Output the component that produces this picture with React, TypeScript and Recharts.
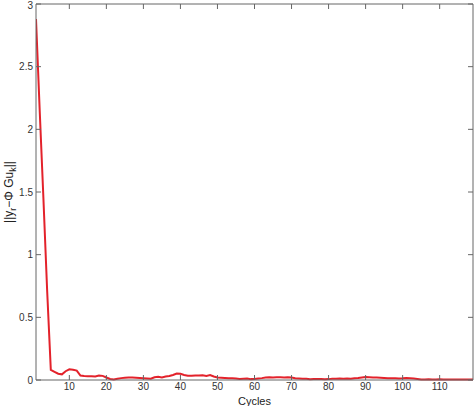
import { LineChart, Line, XAxis, YAxis } from 'recharts';

// cycle index 1..119
const cycles = Array.from({ length: 119 }, (_, i) => i + 1);

// ||y_r - Phi G u_k||, one value per cycle
const errorNorm = [
  2.88, 2.15, 1.45, 0.72, 0.08, 0.065, 0.05, 0.045, 0.07, 0.085,
  0.082, 0.075, 0.035, 0.032, 0.03, 0.03, 0.028, 0.035, 0.033, 0.02,
  0.008, 0.004, 0.01, 0.015, 0.018, 0.02, 0.019, 0.018, 0.016, 0.014,
  0.012, 0.01, 0.022, 0.025, 0.02, 0.028, 0.032, 0.04, 0.052, 0.05,
  0.04, 0.034, 0.033, 0.036, 0.035, 0.038, 0.033, 0.04, 0.028, 0.02,
  0.018, 0.016, 0.014, 0.013, 0.012, 0.008, 0.01, 0.012, 0.007, 0.008,
  0.012, 0.015, 0.02, 0.021, 0.02, 0.022, 0.021, 0.02, 0.021, 0.02,
  0.014, 0.012, 0.01, 0.009, 0.006, 0.007, 0.008, 0.007, 0.006, 0.007,
  0.009, 0.01, 0.011, 0.01, 0.012, 0.01, 0.014, 0.016, 0.02, 0.024,
  0.022, 0.02, 0.019, 0.018, 0.016, 0.014, 0.013, 0.014, 0.012, 0.013,
  0.015, 0.013, 0.011, 0.008, 0.004, 0.004, 0.005, 0.004, 0.004, 0.006,
  0.004, 0.003, 0.004, 0.003, 0.003, 0.004, 0.003, 0.003, 0.003,
];

const xTicks = [10, 20, 30, 40, 50, 60, 70, 80, 90, 100, 110];
const yTicks = [0, 0.5, 1, 1.5, 2, 2.5, 3];

const data = cycles.map((c, i) => ({ cycle: c, err: errorNorm[i] }));

const axisColor = '#666';
const font = 'Liberation Sans, Arial, sans-serif';
const tickFont = { fill: '#333', fontSize: 10, fontFamily: font };

// frame axes: tick marks only, no labels
const NoLabel = () => <g />;

// rotated y label with subscripts
const YLabel = (props: any) => {
  const { viewBox } = props;
  const cx = viewBox.x + 13;
  const cy = viewBox.y + viewBox.height / 2;
  return (
    <text
      x={cx}
      y={cy}
      transform={`rotate(-90 ${cx} ${cy})`}
      textAnchor="middle"
      fontSize={12}
      fontFamily={font}
      fill="#222"
    >
      <tspan>||y</tspan>
      <tspan fontSize={9} dy={3}>r</tspan>
      <tspan dy={-3}>−Φ Gu</tspan>
      <tspan fontSize={9} dy={3}>k</tspan>
      <tspan dy={-3}>||</tspan>
    </text>
  );
};

export default function App() {
  return (
    <div style={{ position: 'absolute', left: 0, top: 0, background: '#fff' }}>
      <LineChart width={474} height={406} data={data} margin={{ top: 2, right: 0, left: 0, bottom: 0 }}>
        <XAxis
          dataKey="cycle"
          type="number"
          domain={[1, 119]}
          ticks={xTicks}
          allowDataOverflow
          height={26}
          stroke={axisColor}
          tickSize={-5}
          tickMargin={8}
          tick={tickFont}
          label={{ value: 'Cycles', position: 'insideBottom', offset: 1, fontSize: 11, fill: '#222', fontFamily: font }}
        />
        <XAxis
          xAxisId="top"
          orientation="top"
          dataKey="cycle"
          type="number"
          domain={[1, 119]}
          ticks={xTicks}
          allowDataOverflow
          height={2}
          stroke={axisColor}
          tickSize={-5}
          tick={<NoLabel />}
        />
        <YAxis
          type="number"
          domain={[0, 3]}
          ticks={yTicks}
          width={36}
          stroke={axisColor}
          tickSize={-5}
          tickMargin={8}
          tick={tickFont}
          label={<YLabel />}
        />
        <YAxis
          yAxisId="right"
          orientation="right"
          type="number"
          domain={[0, 3]}
          ticks={yTicks}
          allowDataOverflow
          width={1}
          stroke={axisColor}
          tickSize={-5}
          tick={<NoLabel />}
        />
        {/* invisible copy so the top/right frame axes get drawn */}
        <Line
          xAxisId="top"
          yAxisId="right"
          type="linear"
          dataKey="err"
          stroke="none"
          dot={false}
          activeDot={false}
          legendType="none"
          isAnimationActive={false}
        />
        <Line
          type="linear"
          dataKey="err"
          stroke="#e3222b"
          strokeWidth={2}
          dot={false}
          activeDot={false}
          isAnimationActive={false}
        />
      </LineChart>
    </div>
  );
}
